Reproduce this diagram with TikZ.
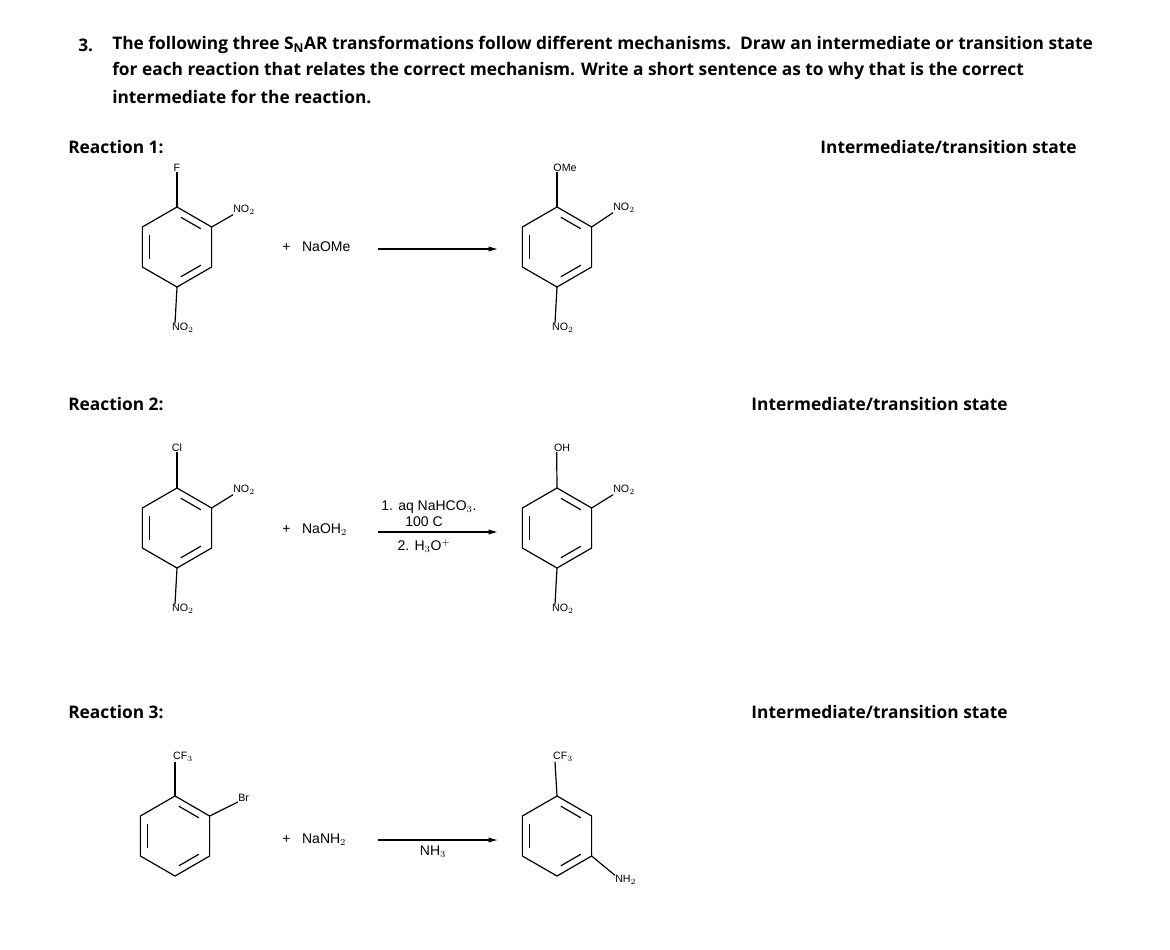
\documentclass[tikz,border=0pt]{standalone}
\usepackage{fontspec}
\setmainfont{Liberation Sans}
\newfontfamily\headfont{Open Sans}
\usetikzlibrary{calc,arrows.meta}
\tikzset{
  bond/.style={line width=0.9pt},
  lab/.style={font=\fontsize{8}{9}\selectfont, inner sep=0pt},
  reag/.style={font=\fontsize{10.5}{12}\selectfont, inner sep=0pt},
  head/.style={font=\headfont\bfseries\fontsize{13}{15}\selectfont, inner sep=0pt},
  rxn/.style={line width=0.9pt, -{Latex[length=7pt,width=4pt]}},
  pics/benz/.style={code={
    \foreach \a/\n in {-90/1,-30/2,30/3,90/4,150/5,-150/6}{\coordinate (-v\n) at (\a:40);}
    \draw[bond,line join=round] (-v1)--(-v2)--(-v3)--(-v4)--(-v5)--(-v6)--cycle;
    \foreach \p/\q in {1/2,3/4,5/6}{
      \coordinate (-p) at ($(-v\p)!0.14!(-v\q)$);
      \coordinate (-q) at ($(-v\q)!0.14!(-v\p)$);
      \draw[bond] ($(0,0)!0.8!(-p)$) -- ($(0,0)!0.8!(-q)$);}
  }}
}
\begin{document}
\begin{tikzpicture}[x=0.75pt,y=-0.75pt]
\useasboundingbox (0,0) rectangle (1170,949);
% title
\node[head,anchor=west] (num) at (78,45) {3.};
\node[head,anchor=west] (t1) at (112,45) {The following three S\textsubscript{N}AR transformations follow different mechanisms.\ \ Draw an intermediate or transition state};
\node[head,anchor=west] (t2) at (112,71) {for each reaction that relates the correct mechanism. Write a short sentence as to why that is the correct};
\node[head,anchor=west] (t3) at (112,97) {intermediate for the reaction.};
% headings
\node[head,anchor=west] (h1) at (68,147) {Reaction 1:};
\node[head,anchor=east] (i1) at (1077,147) {Intermediate/transition state};
\node[head,anchor=west] (h2) at (68,404) {Reaction 2:};
\node[head,anchor=east] (i2) at (1008,404) {Intermediate/transition state};
\node[head,anchor=west] (h3) at (68,712) {Reaction 3:};
\node[head,anchor=east] (i3) at (1008,712) {Intermediate/transition state};

% ---------- Reaction 1
\pic (a) at (177,247) {benz};
\node[lab] (aF) at (177,168) {F};
\draw[bond] (a-v1) -- (aF.south);
\node[lab,anchor=west] (aN1) at (233,210) {NO$_2$};
\draw[bond] (a-v2) -- (aN1.south west);
\node[lab] (aN2) at (183,328) {NO$_2$};
\draw[bond] (a-v4) -- ([xshift=-6pt]aN2.north);
\node[reag,anchor=west] (r1) at (282,247) {+\ \ \ NaOMe};
\coordinate (s1) at (378,249); \coordinate (e1) at (498,249);
\draw[rxn] (s1) -- (e1);
\pic (b) at (557,247) {benz};
\node[lab] (bO) at (565,168) {OMe};
\draw[bond] (b-v1) -- ([xshift=-6pt]bO.south);
\node[lab,anchor=west] (bN1) at (613,208) {NO$_2$};
\draw[bond] (b-v2) -- (bN1.south west);
\node[lab] (bN2) at (563,328) {NO$_2$};
\draw[bond] (b-v4) -- ([xshift=-6pt]bN2.north);

% ---------- Reaction 2
\pic (c) at (177,528) {benz};
\node[lab] (cC) at (177,448) {Cl};
\draw[bond] (c-v1) -- (cC.south);
\node[lab,anchor=west] (cN1) at (233,490) {NO$_2$};
\draw[bond] (c-v2) -- (cN1.south west);
\node[lab] (cN2) at (183,609) {NO$_2$};
\draw[bond] (c-v4) -- ([xshift=-6pt]cN2.north);
\node[reag,anchor=west] (r2) at (282,530) {+\ \ \ NaOH$_2$};
\coordinate (s2) at (378,532); \coordinate (e2) at (498,532);
\draw[rxn] (s2) -- (e2);
\node[reag] (k1) at (429,507) {1. aq NaHCO$_3$.};
\node[reag] (k2) at (424,522) {100 C};
\node[reag] (k3) at (424,546) {2. H$_3$O$^+$};
\pic (d) at (557,528) {benz};
\node[lab] (dO) at (562,448) {OH};
\draw[bond] (d-v1) -- ([xshift=-4pt]dO.south);
\node[lab,anchor=west] (dN1) at (613,490) {NO$_2$};
\draw[bond] (d-v2) -- (dN1.south west);
\node[lab] (dN2) at (563,609) {NO$_2$};
\draw[bond] (d-v4) -- ([xshift=-6pt]dN2.north);

% ---------- Reaction 3
\pic (e) at (175,836) {benz};
\node[lab] (eC) at (183,757) {CF$_3$};
\draw[bond] (e-v1) -- ([xshift=-6pt]eC.south);
\node[lab,anchor=west] (eB) at (238,798) {Br};
\draw[bond] (e-v2) -- (eB.south west);
\node[reag,anchor=west] (r3) at (282,840) {+\ \ \ NaNH$_2$};
\coordinate (s3) at (378,840); \coordinate (e3) at (498,840);
\draw[rxn] (s3) -- (e3);
\node[reag] (k4) at (433,852) {NH$_3$};
\pic (f) at (557,836) {benz};
\node[lab] (fC) at (563,757) {CF$_3$};
\draw[bond] (f-v1) -- ([xshift=-6pt]fC.south);
\node[lab,anchor=west] (fN) at (615,880) {NH$_2$};
\draw[bond] (f-v3) -- (fN.north west);
\end{tikzpicture}
\end{document}
